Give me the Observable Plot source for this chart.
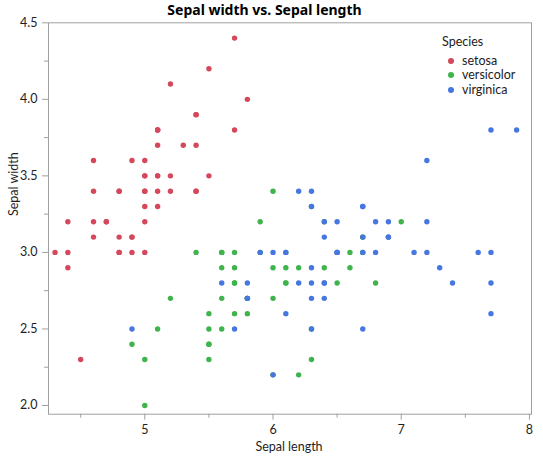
<!DOCTYPE html>
<html>
<head>
<meta charset="utf-8">
<script src="https://cdn.jsdelivr.net/npm/d3@7"></script>
<script src="https://cdn.jsdelivr.net/npm/@observablehq/plot@0.6"></script>
<style>
  body { margin: 0; background: #fff; font-family: Lato, sans-serif; }
  #wrap { position: relative; width: 543px; height: 457px; }
  #title { height: 20px; line-height: 20px; width: 529px;
           text-align: center; font-family: "Noto Sans", sans-serif; font-weight: bold; font-size: 14px; color: #000; }
  #chart svg { overflow: visible; }
  #legend { position: absolute; left: 442px; top: 33px; font-size: 12.5px; color: #222; }
  #legend .ttl { height: 20.5px; line-height: 18px; }
  #legend .row { height: 14.6px; line-height: 14.6px; display: flex; align-items: center; }
  #legend .sw { width: 6px; height: 6px; border-radius: 50%; margin-left: 6px; margin-right: 8px; }
</style>
</head>
<body>
<div id="wrap">
  <div id="title">Sepal width vs. Sepal length</div>
  <div id="chart"></div>
  <div id="legend"></div>
</div>
<script>
const species = ["setosa", "versicolor", "virginica"];
const colors = ["#d5485b", "#3fb44c", "#4676df"];

const setosaLength = [5.1,4.9,4.7,4.6,5.0,5.4,4.6,5.0,4.4,4.9,5.4,4.8,4.8,4.3,5.8,5.7,5.4,5.1,5.7,5.1,5.4,5.1,4.6,5.1,4.8,5.0,5.0,5.2,5.2,4.7,4.8,5.4,5.2,5.5,4.9,5.0,5.5,4.9,4.4,5.1,5.0,4.5,4.4,5.0,5.1,4.8,5.1,4.6,5.3,5.0];
const setosaWidth  = [3.5,3.0,3.2,3.1,3.6,3.9,3.4,3.4,2.9,3.1,3.7,3.4,3.0,3.0,4.0,4.4,3.9,3.5,3.8,3.8,3.4,3.7,3.6,3.3,3.4,3.0,3.4,3.5,3.4,3.2,3.1,3.4,4.1,4.2,3.1,3.2,3.5,3.6,3.0,3.4,3.5,2.3,3.2,3.5,3.8,3.0,3.8,3.2,3.7,3.3];

const versicolorLength = [7.0,6.4,6.9,5.5,6.5,5.7,6.3,4.9,6.6,5.2,5.0,5.9,6.0,6.1,5.6,6.7,5.6,5.8,6.2,5.6,5.9,6.1,6.3,6.1,6.4,6.6,6.8,6.7,6.0,5.7,5.5,5.5,5.8,6.0,5.4,6.0,6.7,6.3,5.6,5.5,5.5,6.1,5.8,5.0,5.6,5.7,5.7,6.2,5.1,5.7];
const versicolorWidth  = [3.2,3.2,3.1,2.3,2.8,2.8,3.3,2.4,2.9,2.7,2.0,3.0,2.2,2.9,2.9,3.1,3.0,2.7,2.2,2.5,3.2,2.8,2.5,2.8,2.9,3.0,2.8,3.0,2.9,2.6,2.4,2.4,2.7,2.7,3.0,3.4,3.1,2.3,3.0,2.5,2.6,3.0,2.6,2.3,2.7,3.0,2.9,2.9,2.5,2.8];

const virginicaLength = [6.3,5.8,7.1,6.3,6.5,7.6,4.9,7.3,6.7,7.2,6.5,6.4,6.8,5.7,5.8,6.4,6.5,7.7,7.7,6.0,6.9,5.6,7.7,6.3,6.7,7.2,6.2,6.1,6.4,7.2,7.4,7.9,6.4,6.3,6.1,7.7,6.3,6.4,6.0,6.9,6.7,6.9,5.8,6.8,6.7,6.7,6.3,6.5,6.2,5.9];
const virginicaWidth  = [3.3,2.7,3.0,2.9,3.0,3.0,2.5,2.9,2.5,3.6,3.2,2.7,3.0,2.5,2.8,3.2,3.0,3.8,2.6,2.2,3.2,2.8,2.8,2.7,3.3,3.2,2.8,3.0,2.8,3.0,2.8,3.8,2.8,2.8,2.6,3.0,3.4,3.1,3.0,3.1,3.1,3.1,2.7,3.2,3.3,3.0,2.5,3.0,3.4,3.0];

const xTicks = [5, 6, 7, 8];
const xTickLabels = ["5", "6", "7", "8"];
const xMinorTicks = [4.5, 5.5, 6.5, 7.5];
const yTicks = [2.0, 2.5, 3.0, 3.5, 4.0, 4.5];
const yTickLabels = ["2.0", "2.5", "3.0", "3.5", "4.0", "4.5"];
const yMinorTicks = [2.25, 2.75, 3.25, 3.75, 4.25];
const xLabel = "Sepal length";
const yLabel = "Sepal width";

const lengths = [setosaLength, versicolorLength, virginicaLength];
const widths = [setosaWidth, versicolorWidth, virginicaWidth];
const data = [];
species.forEach((s, i) => {
  lengths[i].forEach((l, j) => data.push({species: s, length: l, width: widths[i][j]}));
});

const gray = "#a0a0a0";
const txt = "#1e1e1e";

const chart = Plot.plot({
  width: 543,
  height: 437,
  marginLeft: 48,
  marginRight: 12,
  marginTop: 2.3,
  marginBottom: 43.3,
  x: {domain: [4.249, 8.016]},
  y: {domain: [1.943, 4.5]},
  color: {domain: species, range: colors},
  style: {fontFamily: "Lato", fontSize: "12.5px", color: txt, background: "#fff"},
  marks: [
    Plot.frame({stroke: gray}),
    Plot.axisX({ticks: xTicks, tickSize: 6, tickPadding: 5, stroke: gray, fill: txt,
                tickFormat: d => xTickLabels[xTicks.indexOf(d)], label: null, fontSize: 12.5}),
    Plot.axisX({ticks: xMinorTicks, tickSize: 4, tickFormat: () => "", stroke: gray, label: null}),
    Plot.axisY({ticks: yTicks, tickSize: 6, tickPadding: 5, stroke: gray, fill: txt,
                tickFormat: d => yTickLabels[yTicks.indexOf(d)], label: null, fontSize: 12.5}),
    Plot.axisY({ticks: yMinorTicks, tickSize: 4, tickFormat: () => "", stroke: gray, label: null}),
    Plot.text([xLabel], {frameAnchor: "bottom", lineAnchor: "middle", dx: -1, dy: 32.5, text: d => d, fill: txt, fontSize: 12.5}),
    Plot.text([yLabel], {frameAnchor: "left", lineAnchor: "middle", dx: -35, dy: -2.5, rotate: -90, text: d => d, fill: txt, fontSize: 12.5}),
    Plot.dot(data, {x: "length", y: "width", fill: "species", r: 2.7, stroke: null})
  ]
});
document.getElementById("chart").appendChild(chart);

const legend = document.getElementById("legend");
const t = document.createElement("div");
t.className = "ttl";
t.textContent = "Species";
legend.appendChild(t);
species.forEach((s, i) => {
  const row = document.createElement("div");
  row.className = "row";
  const sw = document.createElement("span");
  sw.className = "sw";
  sw.style.background = colors[i];
  const lab = document.createElement("span");
  lab.textContent = s;
  row.appendChild(sw);
  row.appendChild(lab);
  legend.appendChild(row);
});
</script>
</body>
</html>
